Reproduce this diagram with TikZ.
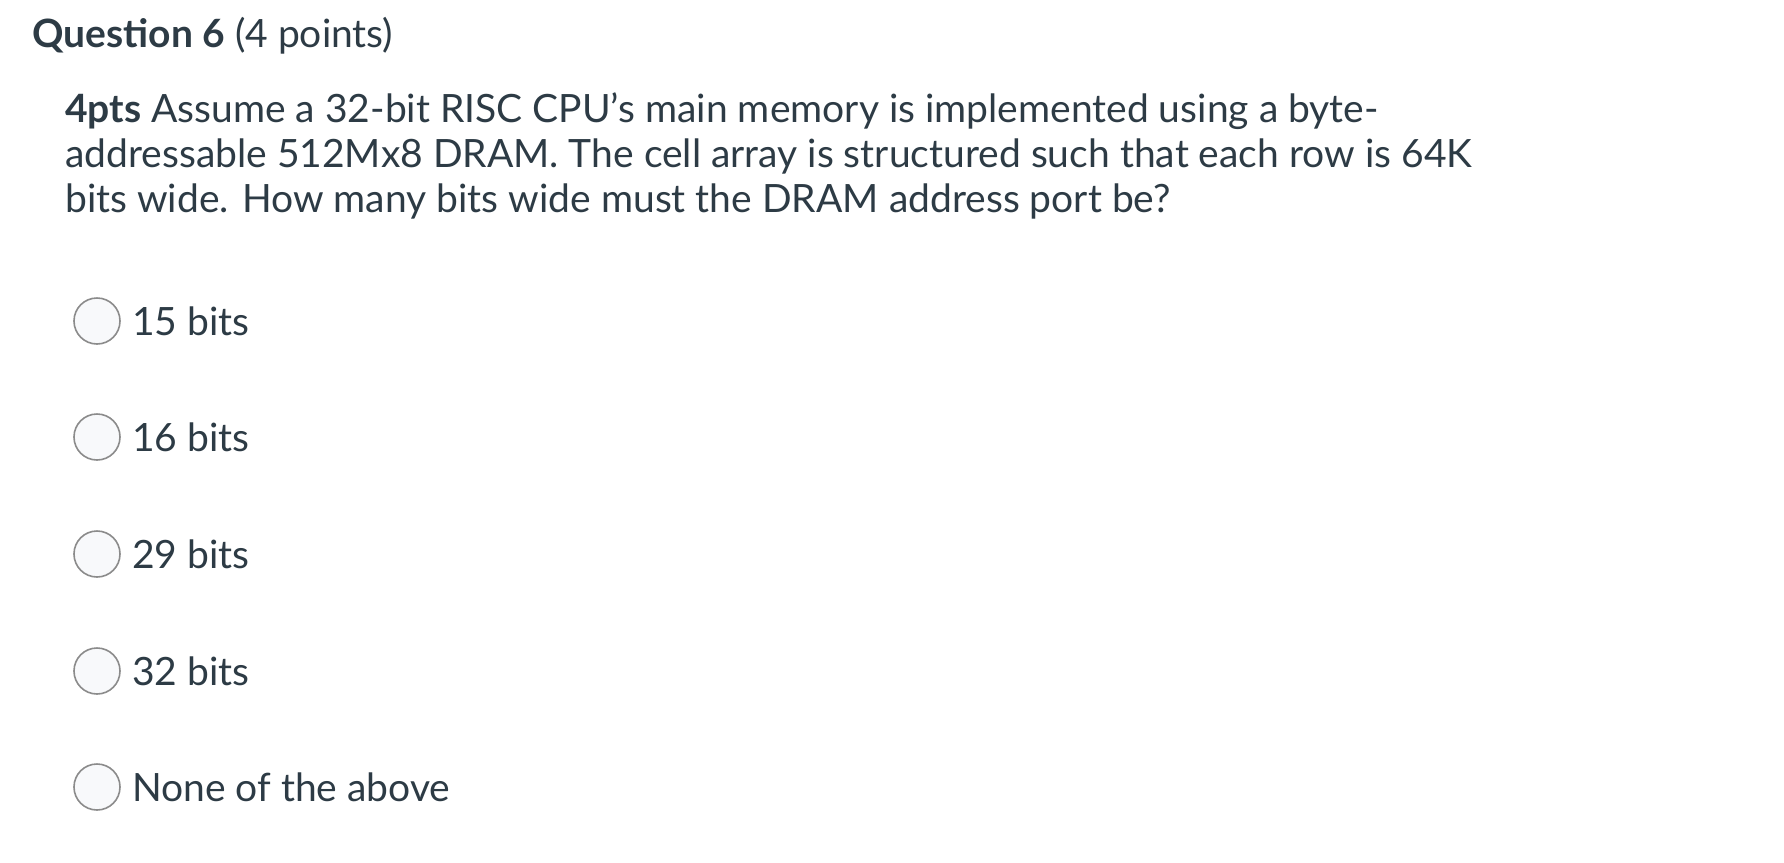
\documentclass[tikz,border=0pt]{standalone}
\usepackage{fontspec}
\setmainfont{Lato}
\definecolor{txt}{HTML}{2D3B45}
\definecolor{rad}{HTML}{8B8B8B}
\definecolor{radfill}{HTML}{F8F9FB}
\begin{document}
\begin{tikzpicture}[x=1pt,y=-1pt,
  t/.style={anchor=west,inner sep=0pt,text=txt,font=\fontsize{39}{46}\selectfont},
  radio/.style={circle,draw=rad,fill=radfill,line width=1.6pt,minimum size=46pt,inner sep=0pt}]
\useasboundingbox[fill=white] (0,0) rectangle (1784,862);
\node[t] (title) at (32,36) {\textbf{Question 6} (4 points)};
\node[t] (l1) at (65,111) {\textbf{4pts} Assume a 32-bit RISC CPU’s main memory is implemented using a byte-};
\node[t] (l2) at (65,156) {addressable 512Mx8 DRAM. The cell array is structured such that each row is 64K};
\node[t] (l3) at (65,201) {bits wide. How many bits wide must the DRAM address port be?};
\foreach \y/\lab [count=\i] in {321/15 bits,437/16 bits,554/29 bits,671/32 bits,787/None of the above}{
  \node[radio] (r\i) at (97,\y) {};
  \node[t] (o\i) at (132,\y) {\lab};
}
\end{tikzpicture}
\end{document}
